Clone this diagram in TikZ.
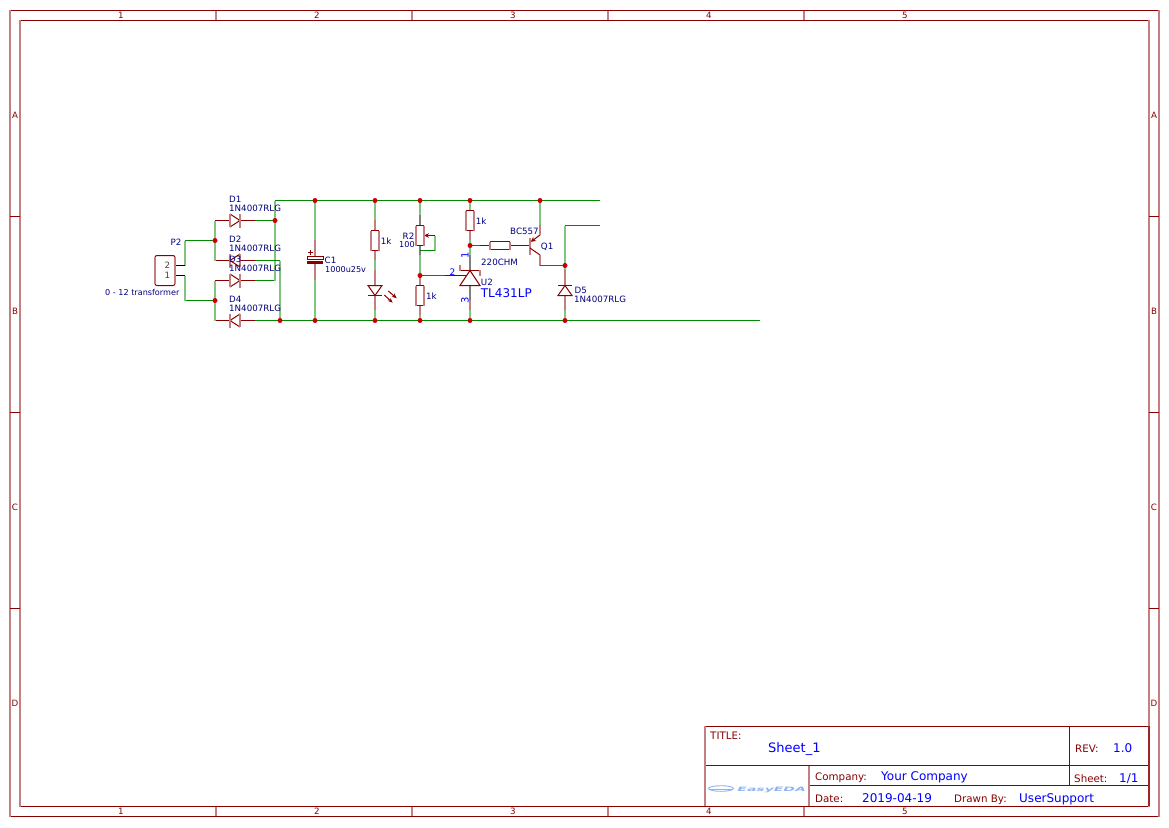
\documentclass[tikz,border=0pt]{standalone}
\usepackage{fontspec}
\setmainfont{DejaVu Sans}
\usetikzlibrary{arrows.meta}
\definecolor{wiregreen}{HTML}{008800}
\definecolor{partred}{HTML}{880000}
\definecolor{dotred}{HTML}{CC0000}
\definecolor{labelnavy}{HTML}{000080}
\definecolor{infoblue}{HTML}{0000FF}
\definecolor{logoblue}{HTML}{8FB3F2}
\newcommand{\fs}[1]{\fontsize{#1}{#1}\selectfont}

\begin{document}
\begin{tikzpicture}[x=1pt, y=-1pt]
        % ================= styles =================
        \tikzset{
            % horizontal and slanted lines
            green_wire/.style={line width=1pt, wiregreen},
            red_pin/.style={line width=1pt, partred},
            black_pin/.style={line width=1pt, black},
            part_line/.style={line width=1pt, partred, line join=miter},
            % upright lines sit between two pixel columns, so they look wide and pale
            green_v/.style={line width=2pt, wiregreen!50},
            red_v/.style={line width=2pt, partred!50},
            grey_v/.style={line width=2pt, black!50},
            % junction dot
            junc/.style={circle, fill=dotred, inner sep=0pt, minimum size=5pt},
            % resistor bodies
            res_v/.style={rectangle, inner sep=0pt, outer sep=0pt, minimum width=8pt, minimum height=20pt},
            res_h/.style={rectangle, inner sep=0pt, outer sep=0pt, minimum width=20pt, minimum height=8pt},
            % texts
            lbl/.style={anchor=base west, inner sep=0pt, font=\fs{8.7}, text=labelnavy},
            pinno/.style={anchor=base, inner sep=0pt, font=\fs{10}, text=infoblue},
            edge_no/.style={anchor=base, inner sep=0pt, font=\fs{8.7}, text=partred},
            info_key/.style={anchor=base west, inner sep=0pt, font=\fs{10.3}, text=partred},
            info_val/.style={anchor=base west, inner sep=0pt, font=\fs{12}, text=infoblue}
        }
        \useasboundingbox (0,0) rectangle (1169,827);

        % ================= sheet frame =================
        \draw[red_pin] (10,10.5) -- (1159,10.5);
        \draw[red_pin] (10,816.5) -- (1159,816.5);
        \draw[red_pin] (20,20.5) -- (1149,20.5);
        \draw[red_pin] (20,806.5) -- (1149,806.5);
        \foreach \fx/\fa/\fb in {10/10/817,1159/10/817,20/20/807,1149/20/807} {
            \draw[red_v] (\fx,\fa) -- (\fx,\fb);
        }
        \foreach \tx in {216,412,608,804} {
            \draw[red_v] (\tx,11) -- (\tx,20);
            \draw[red_v] (\tx,807) -- (\tx,816);
        }
        \foreach \ty in {216.5,412.5,608.5} {
            \draw[red_pin] (10,\ty) -- (20,\ty);
            \draw[red_pin] (1149,\ty) -- (1159,\ty);
        }
        \foreach \tx/\tn in {121/1,317/2,513/3,709/4,905/5} {
            \node[edge_no] (top_\tn) at (\tx,18.5) {\tn};
            \node[edge_no] (bot_\tn) at (\tx,814.7) {\tn};
        }
        \foreach \ty/\tn in {118.7/A,314.7/B,510.7/C,706.7/D} {
            \node[edge_no] (lft_\tn) at (15,\ty) {\tn};
            \node[edge_no] (rgt_\tn) at (1154,\ty) {\tn};
        }

        % ================= title block =================
        \draw[red_pin] (705,726.5) -- (1149,726.5);
        \draw[red_pin] (705,765.5) -- (1149,765.5);
        \draw[red_pin] (809,785.5) -- (1149,785.5);
        \draw[red_v] (705,726) -- (705,806);
        \draw[red_v] (809,766) -- (809,806);
        \draw[line width=2pt, partred!85] (1149,726) -- (1149,806);
        \draw[red_pin] (1069.5,726.5) -- (1069.5,785.5);
        \node[info_key] (t_title) at (710,739.7) {TITLE:};
        \node[info_val, font=\fs{13}] (t_sheet) at (768,752) {Sheet\_1};
        \node[info_key] (t_rev) at (1075,752.7) {REV:};
        \node[info_val] (t_revno) at (1113,752.3) {1.0};
        \node[info_key] (t_comp) at (815,780) {Company:};
        \node[info_val] (t_compname) at (881,780) {Your Company};
        \node[info_key] (t_page) at (1074,782) {Sheet:};
        \node[info_val] (t_pageno) at (1119,782) {1/1};
        \node[info_key] (t_date) at (815,802) {Date:};
        \node[info_val] (t_dateval) at (862,802) {2019-04-19};
        \node[info_key] (t_drawn) at (954,802) {Drawn By:};
        \node[info_val] (t_user) at (1019,802) {UserSupport};
        % logo
        \draw[logoblue, line width=.9pt] (721,788.5) ellipse (12.5pt and 2.8pt);
        \draw[logoblue, line width=.9pt] (709,789) -- (733,789);
        \node[anchor=base west, inner sep=0pt, font=\fs{6}\itshape\bfseries, text=logoblue, transform shape, xscale=2.33] (t_logo) at (737,791.5) {EasyEDA};

        % ================= coordinates =================
        % power rails
        \coordinate (top_a) at (275,200.5);
        \coordinate (top_e) at (600,200.5);
        \coordinate (bot_a) at (215,320.5);
        \coordinate (bot_e) at (760,320.5);
        % junctions
        \coordinate (ja_p) at (215,240.5);
        \coordinate (jb_p) at (215,300.5);
        \coordinate (jc_p) at (275,220.5);
        \coordinate (jd_p) at (280,320.5);
        \coordinate (je_p) at (315,200.5);
        \coordinate (jf_p) at (375,200.5);
        \coordinate (jg_p) at (420,200.5);
        \coordinate (jh_p) at (470,200.5);
        \coordinate (ji_p) at (540,200.5);
        \coordinate (jj_p) at (315,320.5);
        \coordinate (jk_p) at (375,320.5);
        \coordinate (jl_p) at (420,320.5);
        \coordinate (jm_p) at (470,320.5);
        \coordinate (jn_p) at (565,320.5);
        \coordinate (jo_p) at (420,275.5);
        \coordinate (jp_p) at (470,245.5);
        \coordinate (jq_p) at (565,265.5);
        % connector P2
        \coordinate (p2_a) at (175,265.5);
        \coordinate (p2_b) at (185,265.5);
        \coordinate (p2_c) at (175,275.5);
        \coordinate (p2_d) at (185,275.5);
        \coordinate (p2_e) at (185,240.5);
        \coordinate (p2_f) at (185,300.5);

        % ================= bridge diodes =================
        \foreach \dn/\dy/\da/\db in {d1/220.5/230/240, d2/260.5/240/230, d3/280.5/230/240, d4/320.5/240/230} {
            \coordinate (\dn_l) at (215,\dy);
            \coordinate (\dn_i) at (230,\dy);
            \coordinate (\dn_o) at (240,\dy);
            \coordinate (\dn_r) at (255,\dy);
            \draw[red_pin] (\dn_l) -- (\dn_i);
            \draw[red_pin] (\dn_o) -- (\dn_r);
            \draw[part_line] (\da,\dy-6.5) -- (\db,\dy) -- (\da,\dy+6.5);
            \draw[red_v] (\da,\dy-6.5) -- (\da,\dy+6.5);
            \draw[red_v] (\db,\dy-7) -- (\db,\dy+7);
        }

        % ================= green wires =================
        \draw[green_wire] (top_a) -- (top_e);
        \draw[green_wire] (d4_r) -- (bot_e);
        \draw[green_wire] (p2_e) -- (ja_p);
        \draw[green_wire] (p2_f) -- (jb_p);
        \draw[green_v] (p2_b) -- (p2_e);
        \draw[green_v] (p2_d) -- (p2_f);
        \draw[green_v] (d1_l) -- (d2_l);
        \draw[green_v] (d3_l) -- (d4_l);
        \draw[green_wire] (d1_r) -- (jc_p);
        \draw[green_wire] (d3_r) -- (275,280.5);
        \draw[green_v] (top_a) -- (275,280.5);
        \draw[green_wire] (d2_r) -- (280,260.5);
        \draw[green_v] (280,260.5) -- (jd_p);
        \draw[black_pin] (p2_a) -- (p2_b);
        \draw[black_pin] (p2_c) -- (p2_d);

        % ================= C1 =================
        \coordinate (c1_t) at (315,240);
        \coordinate (c1_u) at (315,256);
        \coordinate (c1_v) at (315,264);
        \coordinate (c1_b) at (315,280);
        \draw[green_v] (je_p) -- (c1_t);
        \draw[red_v] (c1_t) -- (c1_u);
        \draw[red_v] (c1_v) -- (c1_b);
        \draw[green_v] (c1_b) -- (jj_p);
        \draw[part_line, fill=white] (307,256.5) rectangle (323,259.5);
        \fill[partred] (307,261) rectangle (323,264);
        \draw[part_line] (308,252.5) -- (313,252.5) (310.5,250) -- (310.5,255);

        % ================= R1 and LED =================
        \coordinate (r1_t) at (375,220);
        \coordinate (r1_b) at (375,260);
        \coordinate (led_t) at (375,270);
        \coordinate (led_b) at (375,310);
        \draw[green_v] (jf_p) -- (r1_t);
        \draw[red_v] (r1_t) -- (r1_b);
        \draw[green_v] (r1_b) -- (led_t);
        \draw[red_v] (led_t) -- (led_b);
        \draw[green_v] (led_b) -- (jk_p);
        \node[res_v] (r1) at (375,240.5) {};
        \fill[white] (368,285.5) -- (382,285.5) -- (375,295.5) -- cycle;
        \draw[part_line] (368,285.5) -- (382,285.5) -- (375,295.5) -- cycle;
        \draw[part_line] (368,295.5) -- (382,295.5);
        \draw[part_line, -{Stealth[length=5pt,width=4pt]}] (384.3,295) -- (392.7,302.7);
        \draw[part_line, -{Stealth[length=5pt,width=4pt]}] (388.3,291) -- (396.7,298.3);

        % ================= R2 and lower resistor =================
        \coordinate (r2_t) at (420,215);
        \coordinate (r2_b) at (420,255);
        \coordinate (r2_x) at (435,235.5);
        \coordinate (r2_y) at (435,250.5);
        \coordinate (r2_z) at (420,250.5);
        \coordinate (r3_b) at (420,315);
        \draw[green_v] (jg_p) -- (r2_t);
        \draw[grey_v] (r2_t) -- (r2_b);
        \draw[green_v] (r2_b) -- (jo_p);
        \draw[green_v] (r2_x) -- (r2_y);
        \draw[green_wire] (r2_y) -- (r2_z);
        \draw[red_v] (jo_p) -- (r3_b);
        \draw[green_v] (r3_b) -- (jl_p);
        \node[res_v] (r2) at (420,235.5) {};
        \node[res_v] (r3) at (420,295.5) {};
        \draw[part_line, -{Stealth[length=5pt,width=4.5pt]}] (r2_x) -- (r2.east);

        % ================= U2 and its divider =================
        \coordinate (r4_t) at (470,210);
        \coordinate (r4_b) at (470,240);
        \coordinate (u2_k) at (470,255);
        \coordinate (u2_a) at (470,270.5);
        \coordinate (u2_g) at (470,285.5);
        \coordinate (u2_h) at (470,300);
        \coordinate (u2_j) at (470,310);
        \coordinate (u2_r) at (445,275.5);
        \coordinate (u2_s) at (466.5,275.5);
        \draw[green_v] (jh_p) -- (r4_t);
        \draw[red_v] (r4_t) -- (r4_b);
        \draw[green_v] (r4_b) -- (u2_k);
        \draw[grey_v] (u2_k) -- (u2_a);
        \draw[grey_v] (u2_g) -- (u2_h);
        \draw[red_v] (u2_h) -- (u2_j);
        \draw[green_v] (u2_j) -- (jm_p);
        \draw[green_wire] (jo_p) -- (u2_r);
        \draw[red_pin] (u2_r) -- (u2_s);
        \node[res_v] (r4) at (470,220.5) {};
        \draw[part_line] (460,285.5) -- (470,270.5) -- (480,285.5) -- cycle;
        \draw[part_line] (460,270.5) -- (480,270.5);
        \draw[red_v] (460,265) -- (460,271);
        \draw[red_v] (480,270) -- (480,276);

        % ================= base resistor and Q1 =================
        \coordinate (r5_l) at (480,245.5);
        \coordinate (q1_b) at (530,245.5);
        \coordinate (q1_e) at (540,235);
        \coordinate (q1_c) at (540,255);
        \coordinate (q1_t) at (540,225);
        \coordinate (q1_d) at (540,265.5);
        \draw[green_wire] (jp_p) -- (r5_l);
        \draw[red_pin] (r5_l) -- (q1_b);
        \node[res_h, fill=white] (r5) at (500,245.5) {};
        \draw[red_v] (530,238) -- (530,255);
        \draw[part_line, -{Stealth[length=5pt,width=5pt]}] (q1_e) -- (530.8,241.8);
        \draw[part_line] (530,248) -- (q1_c);
        \draw[green_v] (ji_p) -- (q1_t);
        \draw[red_v] (q1_t) -- (q1_e);
        \draw[red_v] (q1_c) -- (q1_d);
        \draw[green_wire] (q1_d) -- (jq_p);

        % ================= D5 =================
        \coordinate (d5_a) at (600,225.5);
        \coordinate (d5_b) at (565,225.5);
        \coordinate (d5_c) at (565,270);
        \coordinate (d5_d) at (565,310);
        \draw[green_wire] (d5_a) -- (d5_b);
        \draw[green_v] (d5_b) -- (d5_c);
        \draw[red_v] (d5_c) -- (d5_d);
        \draw[green_v] (d5_d) -- (jn_p);
        \fill[white] (565,285.5) -- (572,295.5) -- (558,295.5) -- cycle;
        \draw[part_line] (558,285.5) -- (572,285.5);
        \draw[part_line] (565,285.5) -- (572,295.5) -- (558,295.5) -- cycle;

        % ================= resistor bodies =================
        \foreach \rn in {r1,r2,r3,r4,r5} {
            \fill[white] (\rn.north west) rectangle (\rn.south east);
            \draw[red_pin] (\rn.north west) -- (\rn.north east);
            \draw[red_pin] (\rn.south west) -- (\rn.south east);
            \draw[red_v] (\rn.north west) -- (\rn.south west);
            \draw[red_v] (\rn.north east) -- (\rn.south east);
        }

        % ================= junction dots =================
        \foreach \jn in {ja,jb,jc,jd,je,jf,jg,jh,ji,jj,jk,jl,jm,jn,jo,jp,jq} {
            \node[junc] (\jn) at (\jn_p) {};
        }

        % ================= connector P2 and labels =================
        \draw[part_line, rounded corners=2pt] (155,262) -- (155,255.5) -- (175,255.5) -- (175,262);
        \draw[part_line, rounded corners=2pt] (155,279) -- (155,285.5) -- (175,285.5) -- (175,279);
        \draw[red_v] (155,257) -- (155,284);
        \draw[red_v] (175,257) -- (175,284);
        \node[lbl, text=black!75] (p2_two) at (164.5,268.3) {2};
        \node[lbl, text=black!75] (p2_one) at (164.5,278.3) {1};
        \node[lbl] (p2_name) at (170.5,245) {P2};
        \node[lbl, font=\fs{8.1}] (p2_val) at (105,295) {0 - 12 transformer};
        \node[lbl] (d1_name) at (229,202) {D1};
        \node[lbl] (d1_val) at (229,211) {1N4007RLG};
        \node[lbl] (d2_name) at (229,242) {D2};
        \node[lbl] (d2_val) at (229,251) {1N4007RLG};
        \node[lbl] (d3_name) at (229,262) {D3};
        \node[lbl] (d3_val) at (229,271) {1N4007RLG};
        \node[lbl] (d4_name) at (229,302) {D4};
        \node[lbl] (d4_val) at (229,311) {1N4007RLG};
        \node[lbl] (c1_name) at (324.5,263.7) {C1};
        \node[lbl, font=\fs{8.1}] (c1_val) at (325,272.7) {1000u25v};
        \node[lbl] (r1_val) at (380.7,244) {1k};
        \node[lbl] (r2_name) at (402.5,239) {R2};
        \node[lbl, font=\fs{8.1}] (r2_val) at (399,247.5) {100};
        \node[lbl] (r3_val) at (426,299.3) {1k};
        \node[lbl] (r4_val) at (475.7,224) {1k};
        \node[lbl] (r5_val) at (481,265) {220CHM};
        \node[lbl] (q1_name) at (540.7,249) {Q1};
        \node[lbl] (q1_val) at (510,234) {BC557};
        \node[lbl] (u2_name) at (480.7,285) {U2};
        \node[lbl, font=\fs{12}, text=infoblue] (u2_val) at (480.7,297.3) {TL431LP};
        \node[lbl] (d5_name) at (574.5,293.3) {D5};
        \node[lbl] (d5_val) at (574,302.7) {1N4007RLG};
        \node[pinno, font=\fs{9}] (u2_one) at (452.5,275) {2};
        \node[pinno, rotate=90] (u2_two) at (468.5,255.5) {1};
        \node[pinno, rotate=90] (u2_three) at (468.5,300) {3};

    \end{tikzpicture}
\end{document}
